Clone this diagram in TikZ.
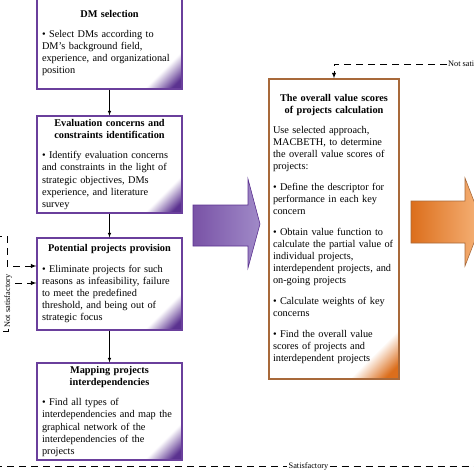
\documentclass[tikz,border=0pt]{standalone}
\usepackage{fontspec}
\setmainfont{Liberation Serif}
\usetikzlibrary{positioning}
\definecolor{dmpurple}{HTML}{6A3F9C}
\definecolor{dmdark}{HTML}{5B3290}
\definecolor{dmlight}{HTML}{A08AC8}
\definecolor{mvbrown}{HTML}{A8693A}
\definecolor{mvorange}{HTML}{DC6E1C}
\definecolor{mvlight}{HTML}{F6B47A}
\newcommand{\steptitle}[1]{{\centering\bfseries #1\par}\vspace{8pt}}
\tikzset{
  stepbox/.style={draw=dmpurple, line width=1.2pt, fill=white, minimum width=145pt,
    text width=135pt, inner xsep=5pt, inner ysep=1pt, align=left,
    font=\fontsize{10.3}{12.2}\selectfont, cornerfade={dmdark}{38}},
  valuebox/.style={draw=mvbrown, line width=1.3pt, fill=white, minimum width=130pt,
    minimum height=300pt, text width=122pt, inner xsep=4pt, inner ysep=1pt, align=left,
    font=\fontsize{10.3}{12}\selectfont, cornerfade={mvorange}{50}},
  cornerfade/.style 2 args={path picture={
    \begin{scope}
      \clip (path picture bounding box.south east) -- ++(-#2,0) -- ++(#2,-#2) -- cycle;
      \shade[top color=white, bottom color=#1, middle color=white, shading angle=45]
        (path picture bounding box.south east) rectangle ++(-#2,-#2);
    \end{scope}}},
  dashline/.style={line width=0.9pt, dash pattern=on 7pt off 5pt},
  flowarrow/.style={semithick, -latex},
  fbtext/.style={font=\fontsize{8.3}{9}\selectfont, inner sep=1pt},
}
\begin{document}
\begin{tikzpicture}[x=1pt,y=-1pt]
\useasboundingbox (0,0) rectangle (474,474);
% Decision steps
\node[stepbox, minimum height=92pt] (dmsel) at (109.5,43) {\steptitle{DM selection}
  • Select DMs according to\\ DM’s background field,\\ experience, and organizational\\ position};
\node[stepbox, minimum height=97pt] (evalcc) at (109.5,164.5) {\steptitle{Evaluation concerns and\\ constraints identification}
  • Identify evaluation concerns\\ and constraints in the light of\\ strategic objectives, DMs\\ experience, and literature\\ survey};
\node[stepbox, minimum height=92pt] (potproj) at (109.5,284) {\steptitle{Potential projects provision}
  • Eliminate projects for such\\ reasons as infeasibility, failure\\ to meet the predefined\\ threshold, and being out of\\ strategic focus};
\node[stepbox, minimum height=97pt] (mapint) at (109.5,411.5) {\steptitle{Mapping projects\\ interdependencies}
  • Find all types of\\ interdependencies and map the\\ graphical network of the\\ interdependencies of the\\ projects};
% Value scores step
\node[valuebox] (ovscore) at (334,229) {\steptitle{The overall value scores\\ of projects calculation}
  Use selected approach,\\ MACBETH, to determine\\ the overall value scores of\\ projects:\par\vspace{9pt}
  • Define the descriptor for\\ performance in each key\\ concern\par\vspace{9pt}
  • Obtain value function to\\ calculate the partial value of\\ individual projects,\\ interdependent projects, and\\ on-going projects\par\vspace{9pt}
  • Calculate weights of key\\ concerns\par\vspace{9pt}
  • Find the overall value\\ scores of projects and\\ interdependent projects};
% Step flow
\draw[flowarrow] (dmsel) -- (evalcc);
\draw[flowarrow] (evalcc) -- (potproj);
\draw[flowarrow] (potproj) -- (mapint);
% Block arrows
\shadedraw[left color=dmpurple!90, right color=dmlight, draw=dmdark, line width=0.6pt]
  (193,205) -- (248,205) -- (248,179) -- (260,224) -- (248,268) -- (248,246) -- (193,246) -- cycle;
\shadedraw[left color=mvorange, right color=mvlight, draw=mvbrown, line width=0.6pt]
  (411,201) -- (465,201) -- (465,178) -- (482,222) -- (465,266) -- (465,243) -- (411,243) -- cycle;
% Feedback loops
\coordinate (fbin) at (-5,236);
\coordinate (fbknee) at (7,266);
\coordinate (fbtwo) at (15,283);
\coordinate (fbout) at (-5,331);
\node[fbtext, rotate=90] (nsleft) at (8,301) {Not satisfactory};
\draw[dashline,-latex] (fbin) -| (fbknee) -- (fbknee -| potproj.west);
\draw[dashline,-latex] (fbtwo) -- (fbtwo -| potproj.west);
\draw[dashline] (nsleft.west) |- (fbout);
\node[fbtext, anchor=west] (nsright) at (447,64) {Not satisfactory};
\draw[dashline,-latex] (nsright.west) -| (ovscore.north);
\coordinate (satleft) at (-5,466);
\coordinate (satright) at (480,466);
\node[fbtext] (sat) at (308.5,466) {Satisfactory};
\draw[dashline] (satleft) -- (sat.west);
\draw[dashline] (sat.east) -- (satright);
\end{tikzpicture}
\end{document}
